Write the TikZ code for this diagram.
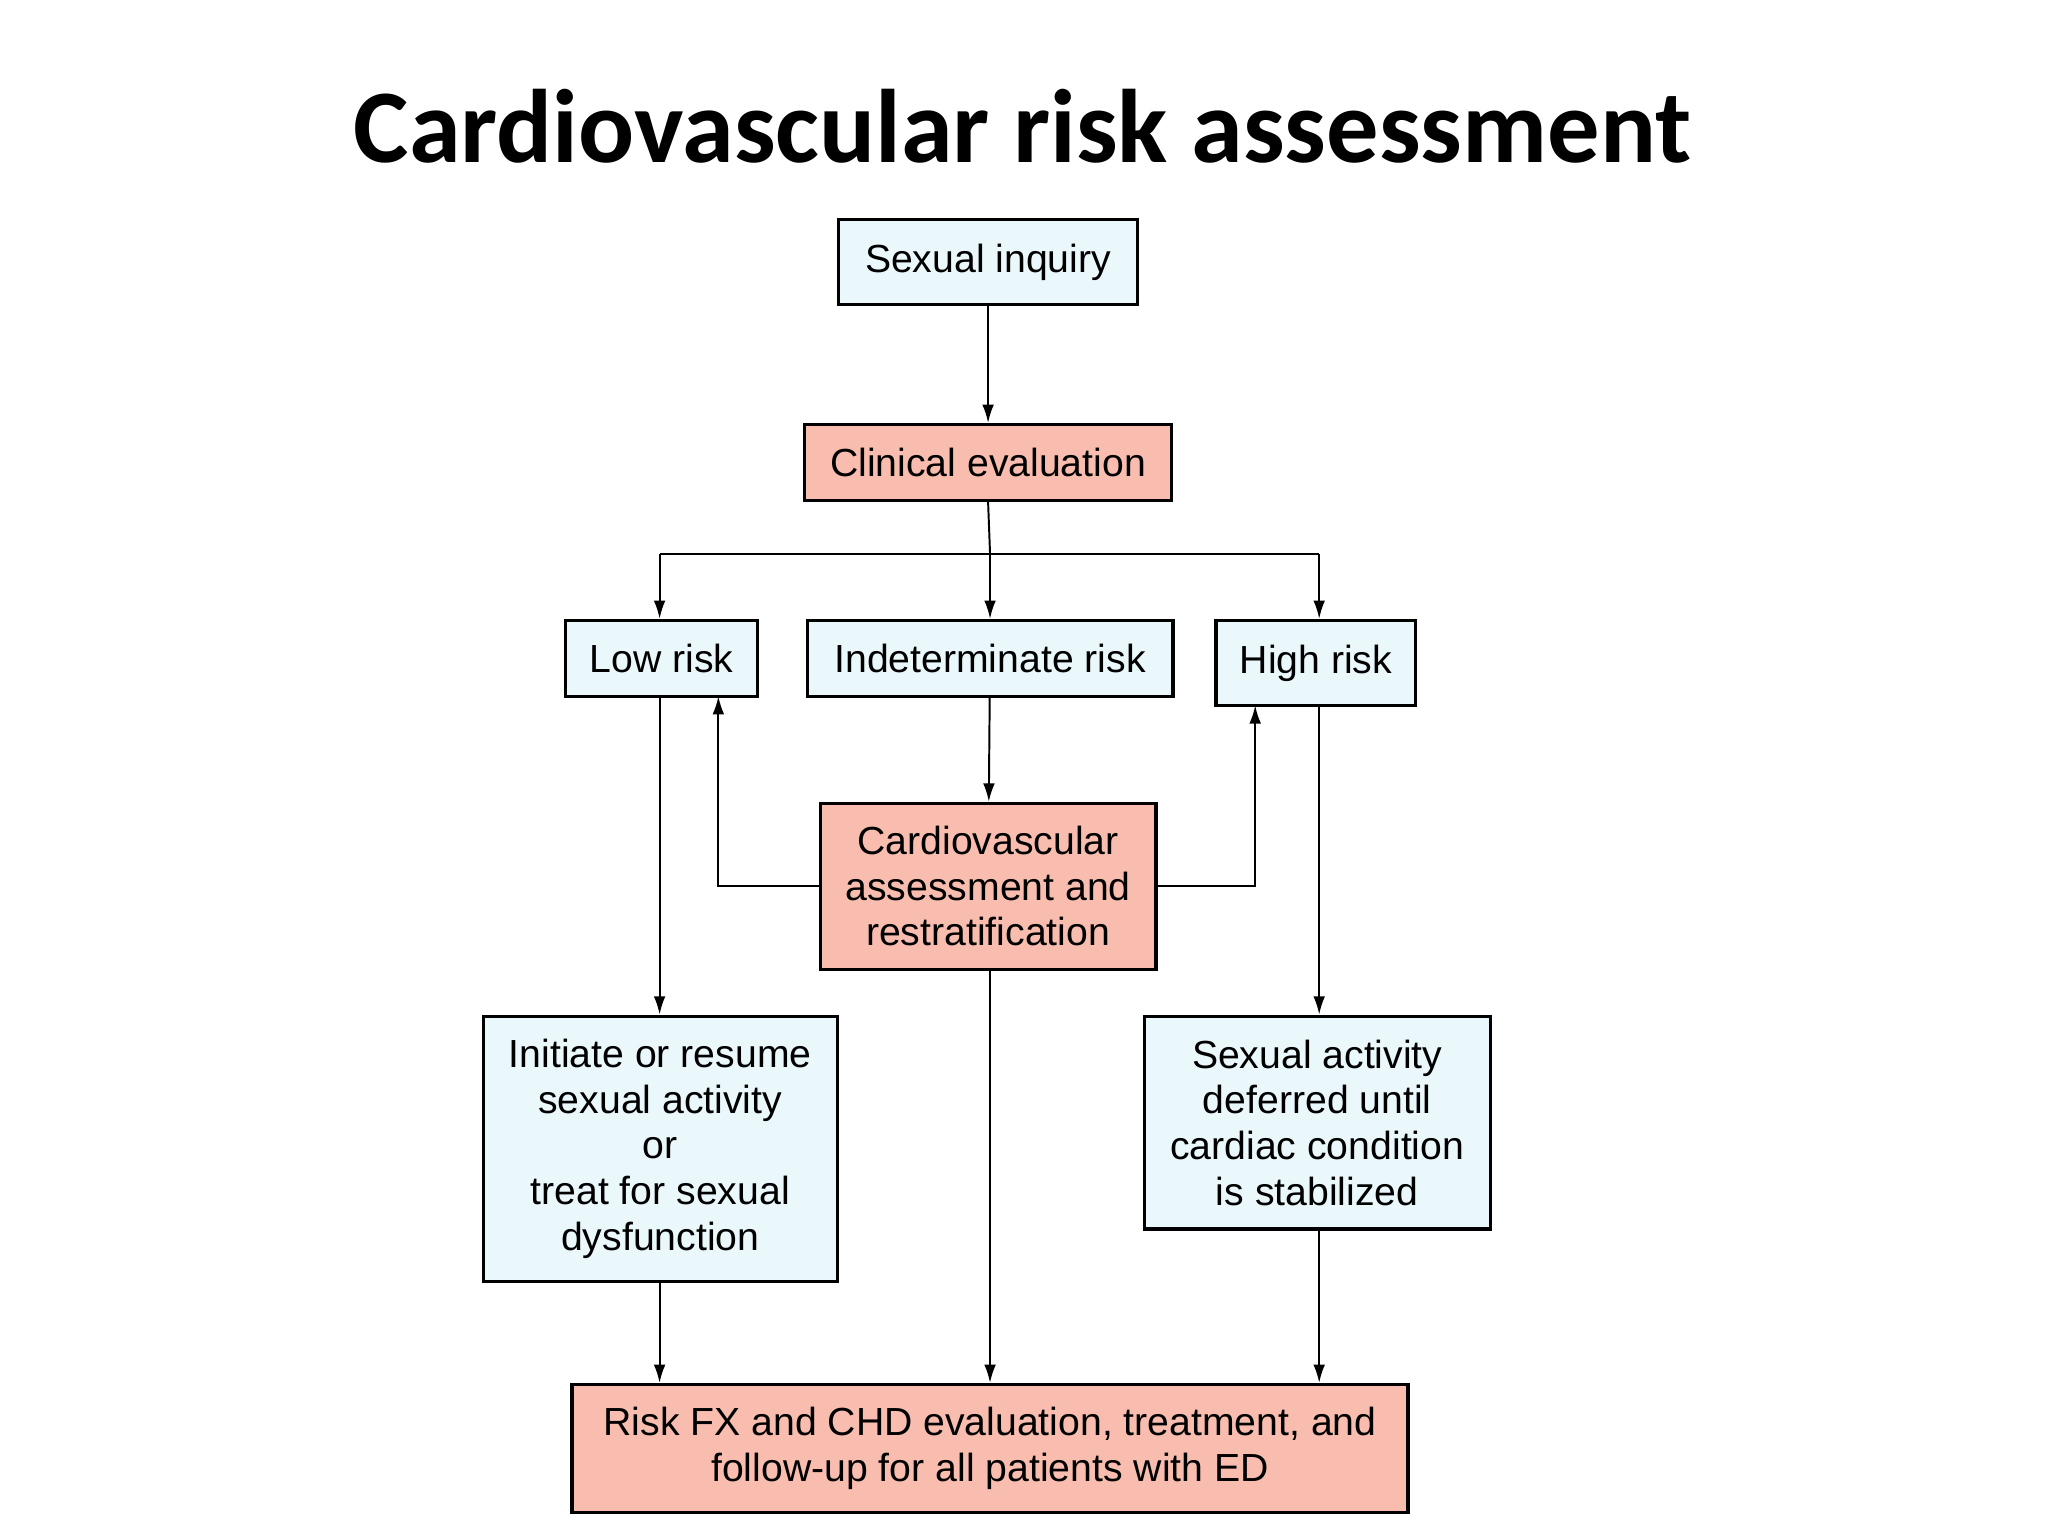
\documentclass[tikz,border=0pt]{standalone}
\usepackage{fontspec}
\setmainfont{Liberation Sans}
\newfontfamily\titlefont{Carlito}
\usetikzlibrary{arrows.meta}
\definecolor{cy}{HTML}{EAF8FB}
\definecolor{sa}{HTML}{F8BDAE}
\begin{document}
\begin{tikzpicture}[x=1pt,y=-1pt,
  box/.style={draw=black,line width=2.5pt,inner sep=0pt,align=center,font=\fontsize{30}{35}\selectfont},
  c/.style={box,fill=cy}, s/.style={box,fill=sa},
  ar/.style={line width=1.5pt,-{Latex[length=14pt,width=9pt]}},
  ln/.style={line width=1.5pt}]
\useasboundingbox (0,0) rectangle (1568,1176);
\fill[white] (0,0) rectangle (1568,1176);
\node (title) at (783,97) {\titlefont\bfseries\fontsize{80}{90}\selectfont Cardiovascular risk assessment};
\node[c,minimum width=229pt,minimum height=65pt] (inq) at (756.5,200.5) {Sexual inquiry};
\node[s,minimum width=281pt,minimum height=58pt] (clin) at (756.5,354) {Clinical evaluation};
\node[c,minimum width=147pt,minimum height=58pt] (low) at (506.5,504) {Low risk};
\node[c,minimum width=280pt,minimum height=58pt] (ind) at (758,504) {Indeterminate risk};
\node[c,minimum width=153pt,minimum height=65pt] (high) at (1007.5,507.5) {High risk};
\node[s,minimum width=257pt,minimum height=127pt] (cv) at (756.5,678.5) {Cardiovascular\\assessment and\\restratification};
\node[c,minimum width=271pt,minimum height=203pt] (init) at (505.5,879.5) {Initiate or resume\\sexual activity\\or\\treat for sexual\\dysfunction};
\node[c,minimum width=265pt,minimum height=163pt] (def) at (1008.5,859.5) {Sexual activity\\deferred until\\cardiac condition\\is stabilized};
\node[s,minimum width=640pt,minimum height=98pt] (fx) at (758,1109) {Risk FX and CHD evaluation, treatment, and\\follow-up for all patients with ED};
\coordinate (j) at (758,424);
\coordinate (jl) at (505,424);
\coordinate (jr) at (1010,424);
\draw[ar] (inq) -- (clin);
\draw[ln] (clin.south) -- (j);
\draw[ln] (jl) -- (jr);
\draw[ar] (jl) -- (low.north -| jl);
\draw[ar] (j) -- (ind.north);
\draw[ar] (jr) -- (high.north -| jr);
\draw[ar] (ind) -- (cv);
\draw[ar] (cv.west) -| (550,533);
\draw[ar] (cv.east) -| (961,540);
\draw[ar] (low.south -| 505,0) -- (init.north -| 505,0);
\draw[ar] (high.south -| 1010,0) -- (def.north -| 1010,0);
\draw[ar] (init.south -| 505,0) -- (fx.north -| 505,0);
\draw[ar] (cv.south -| 758,0) -- (fx.north -| 758,0);
\draw[ar] (def.south -| 1010,0) -- (fx.north -| 1010,0);
\end{tikzpicture}
\end{document}
